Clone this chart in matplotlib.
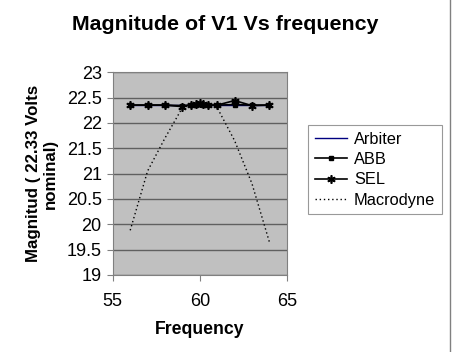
import matplotlib
matplotlib.use("Agg")
from matplotlib import pyplot as plt
from matplotlib.lines import Line2D
import numpy as np

plt.rcParams['font.family'] = ['Liberation Sans', 'DejaVu Sans']

freq = [56, 57, 58, 59, 59.5, 59.8, 60, 60.2, 60.5, 61, 62, 63, 64]
arbiter = [22.35, 22.35, 22.35, 22.35, 22.35, 22.35, 22.35, 22.35, 22.35, 22.35, 22.35, 22.35, 22.35]
abb = [22.35, 22.35, 22.35, 22.34, 22.35, 22.36, 22.37, 22.36, 22.35, 22.35, 22.36, 22.35, 22.35]
sel = [22.35, 22.35, 22.35, 22.32, 22.36, 22.38, 22.39, 22.37, 22.35, 22.35, 22.44, 22.34, 22.35]
macrodyne = [19.88, 21.05, 21.7, 22.3, 22.35, 22.36, 22.37, 22.36, 22.35, 22.3, 21.65, 20.8, 19.65]

fig = plt.figure(figsize=(4.74, 3.52), dpi=100)
ax = fig.add_axes([0.238, 0.219, 0.367, 0.576])
ax.set_facecolor('#c0c0c0')

ax.plot(freq, arbiter, color='#000080', lw=1, label='Arbiter')
ax.plot(freq, abb, color='black', lw=1.2, marker='s', ms=3, label='ABB')
ax.plot(freq, sel, color='black', lw=1.2, marker=(6, 2, 0), ms=6, mew=1.2, label='SEL')
ax.plot(freq, macrodyne, color='black', lw=1, ls=(0, (1, 2)), label='Macrodyne')

ax.set_xlim(55, 65)
ax.set_ylim(19, 23)
ax.set_xticks([55, 60, 65])
ax.set_yticks(np.arange(19, 23.01, 0.5))
ax.set_yticklabels(['19', '19.5', '20', '20.5', '21', '21.5', '22', '22.5', '23'])
ax.yaxis.grid(True, color='#606060', lw=1)
ax.set_axisbelow(True)
ax.tick_params(labelsize=13, length=4, color='#808080', pad=4)
ax.tick_params(axis='x', pad=9)
for s in ax.spines.values():
    s.set_color('#808080')

fig.text(0.475, 0.929, 'Magnitude of V1 Vs frequency', fontsize=15.4, fontweight='bold',
         ha='center', va='center')
ax.set_xlabel('Frequency', fontsize=12.7, fontweight='bold', labelpad=8)
ax.set_ylabel('Magnitud ( 22.33 Volts\nnominal)', fontsize=12.2, fontweight='bold', labelpad=6)

leg = ax.legend(loc='center left', bbox_to_anchor=(0.650, 0.468, 0.3, 0.1),
                bbox_transform=fig.transFigure, fontsize=11.8, frameon=True,
                fancybox=False, edgecolor='#808080', handlelength=2.0,
                borderpad=0.4, labelspacing=0.33, handletextpad=0.4, borderaxespad=0)
leg.get_frame().set_linewidth(0.8)

fig.add_artist(Line2D([0.95, 0.95], [0, 1], transform=fig.transFigure, color='#808080', lw=1))

plt.savefig('out.png', dpi=100)
